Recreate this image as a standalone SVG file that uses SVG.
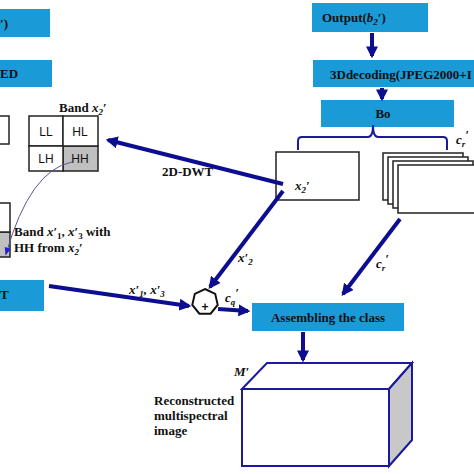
<svg xmlns="http://www.w3.org/2000/svg" width="474" height="474" viewBox="0 0 474 474">
<style>
.box{fill:#1a9ad7}
.t{font-family:"Liberation Serif",serif;font-weight:bold;font-size:13px;fill:#111}
.i{font-style:italic}
.s{font-family:"Liberation Sans",sans-serif;font-size:12px;fill:#111}
.rect{fill:#fff;stroke:#222;stroke-width:1.5}
.ln{stroke:#0d0d8f;stroke-width:4;fill:none}
.cube{stroke:#1a1a9a;stroke-width:2}
</style>
<defs>
<marker id="ah" viewBox="0 0 10 10" refX="8" refY="5" markerWidth="3" markerHeight="3" orient="auto"><path d="M0,0 L10,5 L0,10 Z" fill="#0d0d8f"/></marker>
<marker id="ah2" viewBox="0 0 10 10" refX="8" refY="5" markerWidth="8" markerHeight="8" orient="auto"><path d="M0,1 L10,5 L0,9 Z" fill="#2222cc"/></marker>
</defs>
<g id="n-out1"><rect class="box" x="0" y="9" width="50" height="28"/><text class="t" x="0" y="28">′)</text></g>
<g id="n-ed"><rect class="box" x="0" y="60" width="52" height="27"/><text class="t" x="0" y="78">ED</text></g>
<g id="n-t"><rect class="box" x="0" y="280" width="44" height="31"/><text class="t" x="0" y="299">T</text></g>
<g id="n-out2"><rect class="box" x="312" y="3" width="116" height="29"/><text class="t" x="322" y="22">Output(<tspan class="i">b</tspan><tspan font-size="9" dy="3" class="i">2</tspan><tspan dy="-3">′)</tspan></text></g>
<g id="n-dec"><rect class="box" x="313" y="60" width="165" height="27"/><text class="t" x="330" y="79">3Ddecoding(JPEG2000+I</text></g>
<g id="n-bo"><rect class="box" x="321" y="100" width="133" height="27"/><text class="t" x="383" y="118" text-anchor="middle">Bo</text></g>
<g id="n-asm"><rect class="box" x="252" y="303" width="152" height="28"/><text class="t" x="328" y="322" text-anchor="middle">Assembling the class</text></g>
<g id="n-x2"><rect class="rect" x="276" y="152" width="83" height="48"/><text class="t i" x="295" y="190">x<tspan font-size="9" dy="3">2</tspan><tspan dy="-3">′</tspan></text></g>
<g id="n-cr">
<rect class="rect" x="383" y="153" width="80" height="47"/>
<rect class="rect" x="388" y="157" width="80" height="47"/>
<rect class="rect" x="393" y="161" width="80" height="47"/>
<rect class="rect" x="398" y="165" width="80" height="48"/>
<text class="t i" x="456" y="144">c<tspan font-size="9" dy="3">r</tspan><tspan dy="-8">′</tspan></text>
</g>
<g id="n-band">
<rect class="rect" x="63" y="146" width="35" height="25" fill="#c0c0c0" style="fill:#c0c0c0"/>
<rect class="rect" x="29" y="116" width="34" height="30"/>
<rect class="rect" x="63" y="116" width="35" height="30"/>
<rect class="rect" x="29" y="146" width="34" height="25"/>
<text class="s" x="46" y="136" text-anchor="middle">LL</text>
<text class="s" x="80" y="136" text-anchor="middle">HL</text>
<text class="s" x="46" y="163" text-anchor="middle">LH</text>
<text class="s" x="80" y="163" text-anchor="middle">HH</text>
<text class="t" x="59" y="112">Band <tspan class="i">x</tspan><tspan class="i" font-size="9" dy="3">2</tspan><tspan dy="-3">′</tspan></text>
</g>
<g id="n-left1"><rect class="rect" x="-2" y="116" width="11" height="28"/></g>
<g id="n-left2"><rect class="rect" x="-2" y="232" width="12" height="25" style="fill:#c0c0c0"/><rect class="rect" x="-2" y="203" width="12" height="29"/></g>
<g id="n-bandtext"><text class="t" x="14" y="236">Band <tspan class="i">x</tspan>′<tspan font-size="9" dy="3">1</tspan><tspan dy="-3">, </tspan><tspan class="i">x</tspan>′<tspan font-size="9" dy="3">3</tspan><tspan dy="-3"> with</tspan></text>
<text class="t" x="14" y="252">HH from  <tspan class="i">x</tspan><tspan class="i" font-size="9" dy="3">2</tspan><tspan dy="-3">′</tspan></text></g>
<g id="n-plus"><polygon points="205,289 215.2,293.9 217.7,304.9 210.6,313.7 199.4,313.7 192.3,304.9 194.8,293.9" fill="#fff" stroke="#111" stroke-width="2"/><text class="s" x="205" y="311" text-anchor="middle" font-weight="bold">+</text></g>
<g id="n-cube">
<polygon class="cube" points="242,389 267,363 412,363 389,389" fill="#fff"/>
<polygon class="cube" points="389,389 412,363 412,440 389,466" fill="#c8c8c8"/>
<rect class="cube" x="242" y="389" width="147" height="77" fill="#fff"/>
<text class="t i" x="234" y="376" font-weight="normal">M′</text>
<text class="t" x="154" y="405">Reconstructed</text>
<text class="t" x="154" y="420">multispectral</text>
<text class="t" x="154" y="435">image</text>
</g>
<g id="connectors">
<line class="ln" x1="372" y1="33" x2="372" y2="56" marker-end="url(#ah)"/>
<line class="ln" x1="382" y1="88" x2="382" y2="99" marker-end="url(#ah)"/>
<path d="M298,150 L298,141 Q298,137 302,137 L368,137 Q373,137 373,125 Q373,137 378,137 L443,137 Q447,137 447,141 L447,150" fill="none" stroke="#1a1a9a" stroke-width="2"/>
<line class="ln" x1="283" y1="184" x2="108" y2="140" marker-end="url(#ah)"/>
<text class="t" x="162" y="176">2D-DWT</text>
<line class="ln" x1="283" y1="191" x2="210" y2="287" marker-end="url(#ah)"/>
<text class="t i" x="238" y="262" font-weight="normal">x′<tspan font-size="9" dy="3">2</tspan></text>
<line class="ln" x1="400" y1="219" x2="343" y2="294" marker-end="url(#ah)"/>
<text class="t i" x="376" y="268">c<tspan font-size="9" dy="3">r</tspan><tspan dy="-8">′</tspan></text>
<line class="ln" x1="49" y1="286" x2="189" y2="306" marker-end="url(#ah)"/>
<text class="t i" x="129" y="294" font-weight="normal">x′<tspan font-size="9" dy="3">1</tspan><tspan dy="-3">, </tspan>x′<tspan font-size="9" dy="3">3</tspan></text>
<line class="ln" x1="218" y1="309" x2="248" y2="311" marker-end="url(#ah)"/>
<text class="t i" x="225" y="302">c<tspan font-size="9" dy="3">q</tspan><tspan dy="-8">′</tspan></text>
<line class="ln" x1="303" y1="332" x2="303" y2="360" marker-end="url(#ah)"/>
<path d="M72,162 Q30,170 6,254" fill="none" stroke="#555599" stroke-width="1" marker-end="url(#ah2)"/>
</g>
</svg>
